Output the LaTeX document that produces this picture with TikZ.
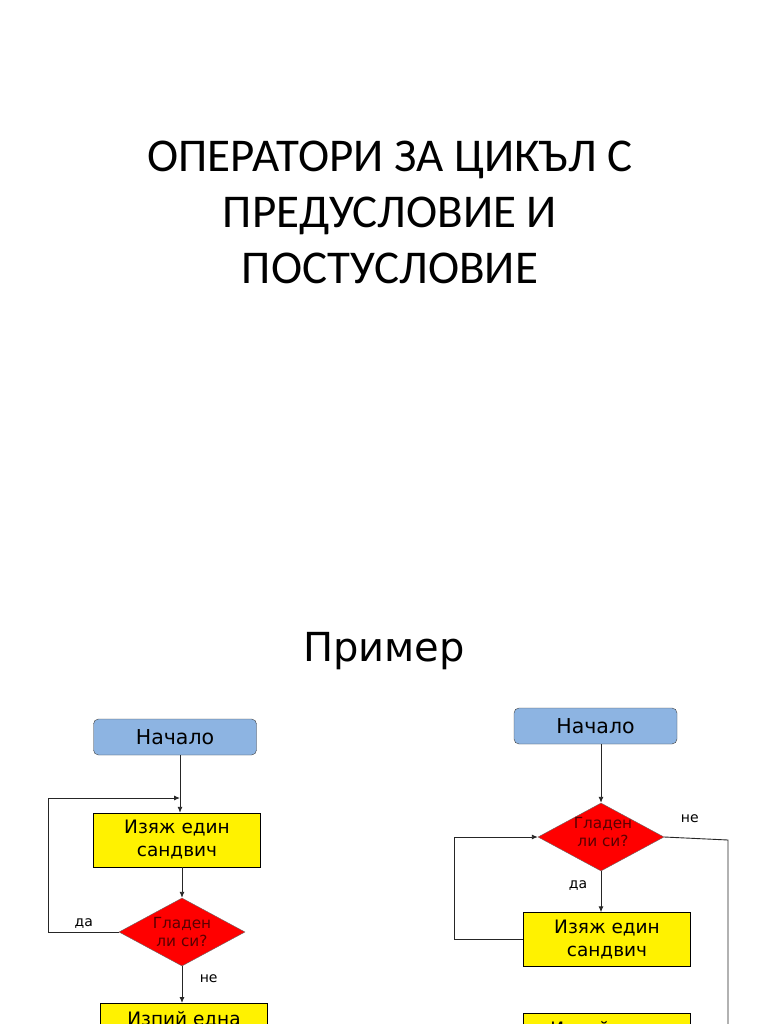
\documentclass[tikz,border=0pt]{standalone}
\usepackage{fontspec}
\setmainfont{DejaVu Sans}
\newfontfamily\titlefont{Carlito}
\usetikzlibrary{shapes.geometric,arrows.meta}

\definecolor{startblue}{RGB}{141,180,226}
\definecolor{askred}{RGB}{255,0,0}
\definecolor{asktext}{RGB}{90,0,0}

\tikzset{
  startbox/.style={draw=black!75, fill=startblue, rounded corners=5pt,
    minimum width=163pt, minimum height=36pt, inner sep=0pt,
    font=\fontsize{20.5}{24}\selectfont},
  procbox/.style={draw=black, fill=yellow, minimum width=167pt,
    minimum height=54pt, inner sep=0pt, align=center,
    font=\fontsize{18.5}{23}\selectfont},
  askbox/.style={diamond, draw=black!60, fill=askred, aspect=1.85,
    minimum width=126pt, minimum height=68pt, inner sep=0pt, align=center,
    text=asktext, font=\fontsize{15.3}{18.5}\selectfont},
  asktitle/.style={align=center, text=asktext, font=\fontsize{15.3}{18.5}\selectfont},
  arr/.style={draw=black!85, line width=0.9pt, -{Latex[length=6pt,width=5pt]}},
  flow/.style={draw=black!85, line width=0.9pt},
  loopline/.style={draw=black!60, line width=1.1pt},
  answer/.style={font=\fontsize{14}{16}\selectfont}
}

\begin{document}
\begin{tikzpicture}[x=1pt,y=-1pt]
  \useasboundingbox (0,0) rectangle (768,1024);
  \fill[white] (0,0) rectangle (768,1024);
  \clip (0,0) rectangle (768,1024);

  % heading
  \node[font=\titlefont\fontsize{47}{56}\selectfont, align=center] (title) at (390,212)
    {ОПЕРАТОРИ ЗА ЦИКЪЛ С\\ПРЕДУСЛОВИЕ И\\ПОСТУСЛОВИЕ};
  \node[font=\fontsize{40}{46}\selectfont] (example) at (384,651) {Пример};

  % left chart: loop with postcondition
  \node[startbox] (start1) at (175,737) {Начало};
  \node[procbox] (eat1) at (177,840) {Изяж един\\сандвич};
  \node[askbox] (ask1) at (182,932) {Гладен\\ли си?};
  \node[procbox, anchor=north] (drink1) at (184,1003) {Изпий една\\~};
  \coordinate (lmerge) at (180,798);

  \draw[flow] (start1.south -| lmerge) -- (lmerge);
  \draw[arr] (lmerge) -- (lmerge |- eat1.north);
  \draw[arr] (ask1.north |- eat1.south) -- (ask1.north);
  \draw[loopline, arr] (ask1.west) -- ++(-70,0) node[midway, above, answer, text=black]{да}
    |- (lmerge);
  \draw[arr] (ask1.south) -- (ask1.south |- drink1.north)
    node[pos=0.35, right=14pt, answer]{не};

  % right chart: loop with precondition
  \node[startbox] (start2) at (595.5,726) {Начало};
  \node[askbox] (ask2) at (601,837) {};
  \node[asktitle] (ask2text) at (603,832) {Гладен\\ли си?};
  \node[procbox] (eat2) at (607,939.5) {Изяж един\\сандвич};
  \node[procbox, anchor=north] (drink2) at (607,1013) {Изпий една\\~};
  \coordinate (rexit) at (728,840);
  \coordinate (rend) at (728,1040);

  \draw[arr] (start2.south -| ask2.north) -- (ask2.north);
  \draw[flow] (ask2.east) -- (rexit) node[pos=0.4, above=12pt, answer]{не} -- (rend);
  \draw[arr] (ask2.south) -- (ask2.south |- eat2.north)
    node[pos=0.35, left=10pt, answer]{да};
  \draw[loopline, arr] (eat2.west) -- ++(-69,0) |- (ask2.west);
\end{tikzpicture}
\end{document}
